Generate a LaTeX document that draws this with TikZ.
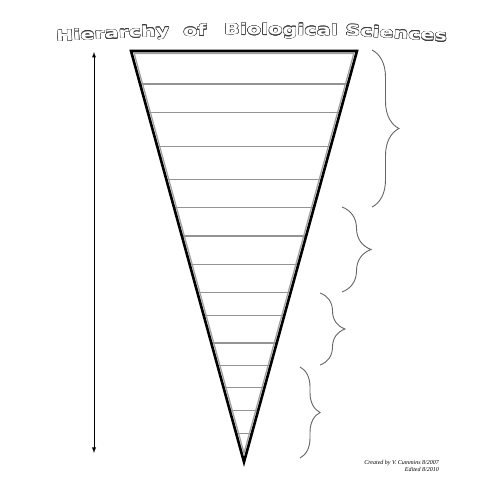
\documentclass[tikz,border=0pt]{standalone}
\usepackage{fontspec}
\usepackage[copies]{contour}
\usetikzlibrary{decorations.pathreplacing,calc}
\newfontfamily\titlefont[FakeStretch=1.38]{DejaVu Sans Bold}
\newfontfamily\credfont{Liberation Serif}
\contourlength{0.4pt}
\newcommand{\outword}[1]{\contour{black!75}{\textcolor{white}{#1}}}
\tikzset{
    titleword/.style={anchor=base, inner sep=0pt, font=\titlefont\fontsize{15}{16}\selectfont},
    rung/.style={draw=gray!85, line width=1.1pt},
    bracket/.style={draw=gray!80!black, line width=0.9pt, decorate,
        decoration={brace, amplitude=#1}},
}
\begin{document}
\begin{tikzpicture}[x=1pt,y=1pt]
    \useasboundingbox[fill=white] (0,0) rectangle (495,495);
    % title
    \node[titleword, rotate=3] (w1) at (113,456.5) {\outword{Hierarchy}};
    \node[titleword, rotate=1.5] (w2) at (195,459) {\outword{of}};
    \node[titleword, rotate=-0.5] (w3) at (281,460) {\outword{Biological}};
    \node[titleword, rotate=-3.5] (w4) at (396,456.5) {\outword{Sciences}};
    % the triangle
    \coordinate (TL) at (131,444);
    \coordinate (TR) at (357,444);
    \coordinate (A) at (244,33);
    \foreach \y in {411,382.3,348.3,315.7,287.3,259,230.5,202.7,179.7,152,129.7,107.3,84.3,61.7}{
        \pgfmathsetmacro{\t}{(444-\y)/411}
        \draw[rung] ($(TL)!\t!(A)$) -- ($(TR)!\t!(A)$);
    }
    \draw[gray!75, line width=1.2pt, line join=miter] (134.2,441.5) -- (353.8,441.5) -- (244,42) -- cycle;
    \draw[black, line width=2.6pt, line join=miter] (TL) -- (TR) -- (A) -- cycle;
    % arrow
    \coordinate (top) at (94,443);
    \coordinate (bot) at (94,42);
    \draw[line width=0.9pt, latex-latex] (top) -- (bot);
    % braces
    \coordinate (b1t) at (372,445);
    \coordinate (b1b) at (372,288);
    \coordinate (b2t) at (342,288);
    \coordinate (b2b) at (342,203);
    \coordinate (b3t) at (320,202);
    \coordinate (b3b) at (320,130);
    \coordinate (b4t) at (300,128);
    \coordinate (b4b) at (300,37);
    \draw[bracket=27pt] (b1t) -- (b1b);
    \draw[bracket=29pt] (b2t) -- (b2b);
    \draw[bracket=25pt] (b3t) -- (b3b);
    \draw[bracket=20pt] (b4t) -- (b4b);
    % credits
    \node[anchor=south east, align=right, inner sep=0pt, font=\credfont\itshape\fontsize{6}{7}\selectfont] (cred) at (439,23) {Created by V. Cummins 8/2007\\Edited 8/2010};
\end{tikzpicture}
\end{document}
